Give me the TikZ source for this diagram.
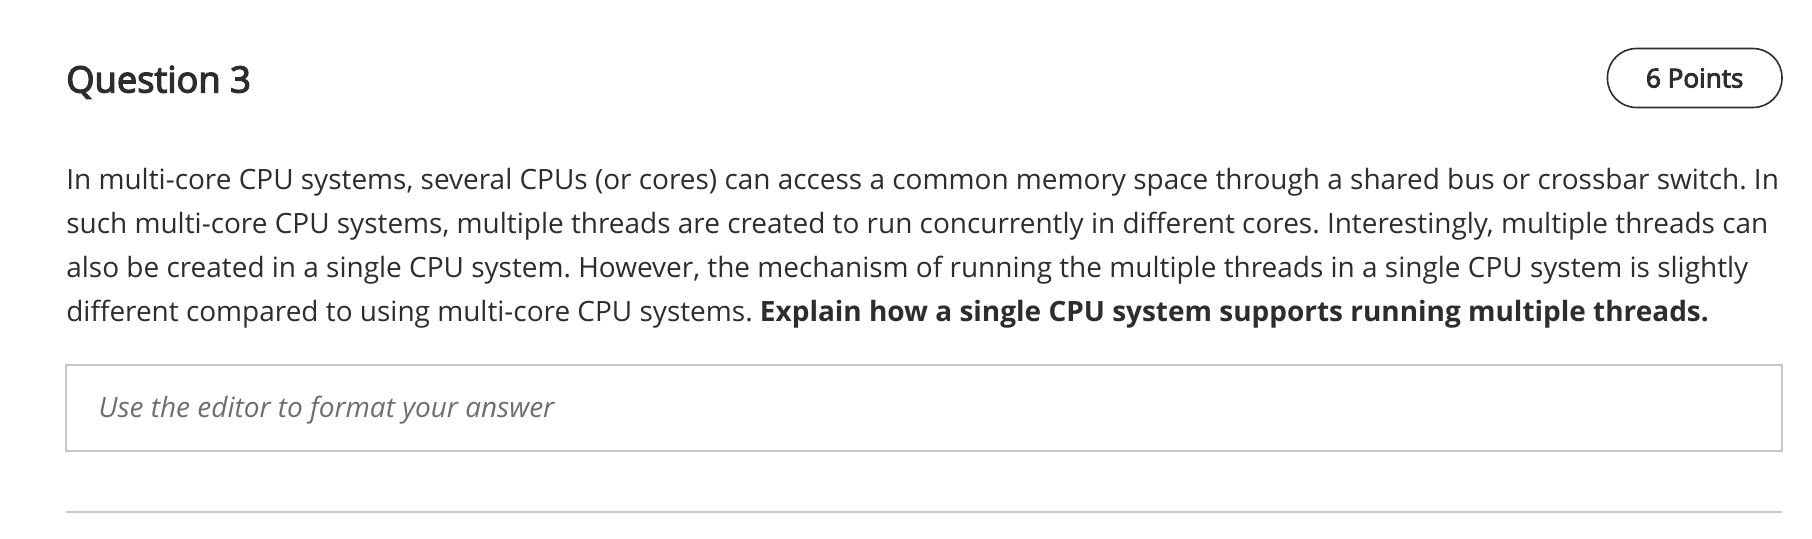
\documentclass[tikz,border=0pt]{standalone}
\usepackage{fontspec}
\setmainfont{Open Sans}
\newfontfamily\semib[FakeBold=3.5]{Open Sans}
\definecolor{txt}{HTML}{2D2D2D}
\definecolor{boxgray}{HTML}{C8C8C8}
\definecolor{ph}{HTML}{6E6E6E}
\frenchspacing
\begin{document}
\begin{tikzpicture}[x=0.5pt,y=-0.5pt,
  body/.style={anchor=base west,inner sep=0,text=txt,font=\fontsize{12.1}{14}\selectfont}]
\useasboundingbox (0,0) rectangle (1568,466);
\node[anchor=base west,inner sep=0,text=txt,font=\fontsize{15.7}{18}\semib\selectfont] (title) at (57,80) {Question 3};
\node[draw=txt,line width=0.7pt,rounded corners=12.5pt,minimum width=75.5pt,minimum height=25.5pt,text=txt,font=\fontsize{11.3}{13}\semib\selectfont] (pts) at (1466.5,67.5) {6 Points};
\node[body] (l1) at (57,164) {In multi-core CPU systems, several CPUs (or cores) can access a common memory space through a shared bus or crossbar switch. In};
\node[body] (l2) at (57,202) {such multi-core CPU systems, multiple threads are created to run concurrently in different cores. Interestingly, multiple threads can};
\node[body] (l3) at (57,240) {also be created in a single CPU system. However, the mechanism of running the multiple threads in a single CPU system is slightly};
\node[body] (l4) at (57,278) {different compared to using multi-core CPU systems. \textbf{Explain how a single CPU system supports running multiple threads.}};
\draw[boxgray,line width=0.8pt] (57,316) rectangle (1542,390);
\node[anchor=base west,inner sep=0,text=ph,font=\fontsize{12.1}{14}\itshape\selectfont] (hint) at (85,361) {Use the editor to format your answer};
\draw[boxgray,line width=0.8pt] (57,443) -- (1542,443);
\end{tikzpicture}
\end{document}
